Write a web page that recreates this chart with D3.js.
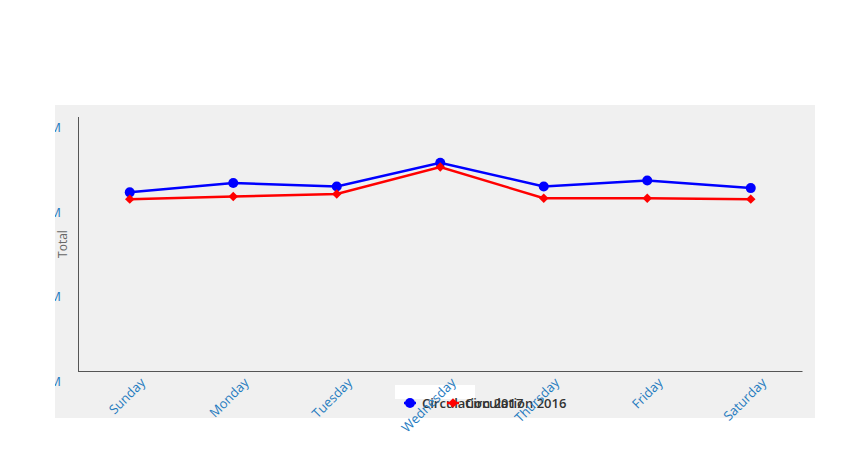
<!DOCTYPE html>
<html>
<head>
<meta charset="utf-8">
<script src="https://cdn.jsdelivr.net/npm/d3@7"></script>
<style>
  body { margin: 0; background: #fff; }
  text { font-family: "Open Sans", sans-serif; }
</style>
</head>
<body>
<div id="chart"></div>
<script>
var days = ["Sunday", "Monday", "Tuesday", "Wednesday", "Thursday", "Friday", "Saturday"];
var circ2017 = [2.11, 2.22, 2.18, 2.46, 2.18, 2.25, 2.16];
var circ2016 = [2.03, 2.06, 2.09, 2.41, 2.04, 2.04, 2.03];
var yTicks = [0, 1, 2, 3];
var yTickLabels = ["0M", "1M", "2M", "3M"];
var seriesNames = ["Circulation 2017", "Circulation 2016"];

function init(){
    var w = 850, h = 457;

    var svg = d3.select("#chart").append("svg")
        .attr("width", w)
        .attr("height", h);

    // the original panel cuts off its left edge
    svg.append("clipPath").attr("id", "clip")
        .append("rect").attr("x", 55).attr("y", 0).attr("width", w).attr("height", h);

    var g = svg.append("g").attr("clip-path", "url(#clip)");

    g.append("rect")
        .attr("x", 55).attr("y", 105)
        .attr("width", 760).attr("height", 313)
        .attr("fill", "#f0f0f0");

    var xScale = d3.scaleBand()
        .domain(days)
        .range([78, 802.5]);

    var yScale = d3.scaleLinear()
        .domain([0, 3])
        .range([371, 117]);

    var diamond = d3.symbol().type(d3.symbolSquare).size(45);

    // legend (drawn first, the tick labels sit on top of it)
    var legend = g.append("g");
    legend.append("rect")
        .attr("x", 395).attr("y", 385)
        .attr("width", 80).attr("height", 14)
        .attr("fill", "#fff");

    var legX = [410, 453];
    var legColors = ["#0000ff", "#ff0000"];
    seriesNames.forEach(function(name, i){
        legend.append("line")
            .attr("x1", legX[i] - 6).attr("x2", legX[i] + 6)
            .attr("y1", 403).attr("y2", 403)
            .attr("stroke", legColors[i]).attr("stroke-width", 2.5);
        if (i === 0) {
            legend.append("circle")
                .attr("cx", legX[i]).attr("cy", 403).attr("r", 5)
                .attr("fill", legColors[i]);
        } else {
            legend.append("path")
                .attr("d", diamond)
                .attr("transform", "translate(" + legX[i] + ",403) rotate(45)")
                .attr("fill", legColors[i]);
        }
        legend.append("text")
            .attr("x", legX[i] + 12).attr("y", 408)
            .attr("fill", "#333")
            .style("font-size", "13px")
            .style("font-weight", "600")
            .text(name);
    });

    // y axis
    var yAxis = g.append("g").attr("transform", "translate(78,0)");
    yAxis.append("line")
        .attr("x1", 0.5).attr("x2", 0.5)
        .attr("y1", yScale(3)).attr("y2", yScale(0))
        .attr("stroke", "#555").attr("stroke-width", 1);
    yAxis.selectAll("text.ytick")
        .data(yTicks)
        .enter().append("text")
        .attr("class", "ytick")
        .attr("x", -17)
        .attr("y", function(d){ return yScale(d) + 15; })
        .attr("text-anchor", "end")
        .attr("fill", "#1f7bbf")
        .style("font-size", "13px")
        .text(function(d, i){ return yTickLabels[i]; });

    g.append("text")
        .attr("transform", "translate(67,244) rotate(-90)")
        .attr("text-anchor", "middle")
        .attr("fill", "#666")
        .style("font-size", "12px")
        .text("Total");

    // x axis
    g.append("line")
        .attr("x1", 78).attr("x2", 802.5)
        .attr("y1", 371.5).attr("y2", 371.5)
        .attr("stroke", "#555").attr("stroke-width", 1);

    g.selectAll("text.xtick")
        .data(days)
        .enter().append("text")
        .attr("class", "xtick")
        .attr("transform", function(d){
            return "translate(" + (xScale(d) + xScale.bandwidth() / 2 + 10) + ",377) rotate(-45)";
        })
        .attr("text-anchor", "end")
        .attr("dy", "0.7em")
        .attr("fill", "#1f7bbf")
        .style("font-size", "13px")
        .text(function(d){ return d; });

    var line = d3.line()
        .x(function(d, i){ return xScale(days[i]) + xScale.bandwidth() / 2; })
        .y(function(d){ return yScale(d); });

    g.append("path").datum(circ2017)
        .attr("d", line).attr("fill", "none")
        .attr("stroke", "#0000ff").attr("stroke-width", 2.5);
    g.selectAll("circle.p17")
        .data(circ2017).enter().append("circle")
        .attr("class", "p17")
        .attr("cx", function(d, i){ return xScale(days[i]) + xScale.bandwidth() / 2; })
        .attr("cy", function(d){ return yScale(d); })
        .attr("r", 5)
        .attr("fill", "#0000ff");

    g.append("path").datum(circ2016)
        .attr("d", line).attr("fill", "none")
        .attr("stroke", "#ff0000").attr("stroke-width", 2.5);
    g.selectAll("path.p16")
        .data(circ2016).enter().append("path")
        .attr("class", "p16")
        .attr("d", diamond)
        .attr("transform", function(d, i){
            return "translate(" + (xScale(days[i]) + xScale.bandwidth() / 2) + "," + yScale(d) + ") rotate(45)";
        })
        .attr("fill", "#ff0000");
}
window.onload = init;
</script>
</body>
</html>
